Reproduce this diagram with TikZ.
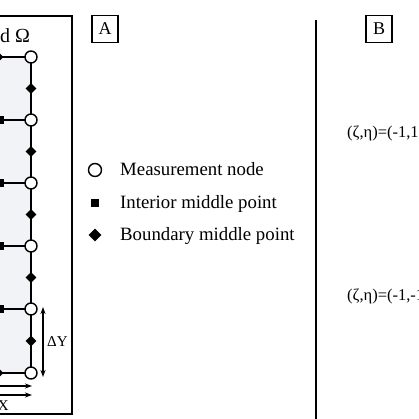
\documentclass[tikz,border=0pt]{standalone}
\usepackage{fontspec}
\setmainfont{Liberation Serif}
\usetikzlibrary{arrows.meta,shapes.geometric}
\definecolor{fillgray}{RGB}{242,243,247}
\begin{document}
\begin{tikzpicture}[x=1pt,y=-1pt,
  meas/.style={circle,draw,line width=1.4pt,fill=white,minimum size=12pt,inner sep=0pt},
  bmid/.style={diamond,fill=black,minimum size=11pt,inner sep=0pt},
  imid/.style={rectangle,fill=black,minimum size=8pt,inner sep=0pt},
  wire/.style={line width=1.6pt},
  lbl/.style={font=\fontsize{18.8}{22}\selectfont,anchor=base west,inner sep=0pt},
  smalltxt/.style={font=\fontsize{15}{18}\selectfont,inner sep=0pt},
  btxt/.style={font=\fontsize{16.5}{19}\selectfont,inner sep=0pt,anchor=base west},
  tag/.style={draw,line width=1.2pt,minimum width=26pt,minimum height=27pt,inner sep=0pt,font=\fontsize{18}{20}\selectfont},
  arr/.style={line width=1.2pt,-{Stealth[length=7pt,width=5pt]}},
  darr/.style={line width=1.2pt,{Stealth[length=7pt,width=5pt]}-{Stealth[length=7pt,width=5pt]}}]
\useasboundingbox (0,0) rectangle (419,419);
% panel A
\fill[fillgray] (-5,57) rectangle (31,373);
\draw[line width=1.2pt] (-10,16) rectangle (72,414);
\node[anchor=base west,inner sep=0pt,font=\fontsize{20}{22}\selectfont] (title) at (0,43) {d Ω};
% boundary column
\foreach \i/\y in {1/57,2/120,3/183,4/246,5/309,6/373}{
  \coordinate (r\i) at (-10,\y);
}
\draw[wire] (31,57) -- (31,373);
\foreach \i in {1,...,6}{
  \draw[wire] (r\i) -- (31,0 |- r\i);
}
\foreach \i/\y in {1/88.5,2/151.5,3/214.5,4/277.5,5/341}{
  \node[bmid] (b\i) at (31,\y) {};
}
\foreach \i/\y in {2/120,3/183,4/246,5/309}{
  \node[imid] (s\i) at (0,\y) {};
}
\node[bmid] (c1) at (-2,57) {};
\node[bmid] (c6) at (-2,373) {};
\foreach \i/\y in {1/57,2/120,3/183,4/246,5/309,6/373}{
  \node[meas] (m\i) at (31,\y) {};
}
% spacing arrows
\coordinate (ax1) at (-10,386);
\coordinate (ax2) at (32,386);
\coordinate (bx1) at (-10,395);
\coordinate (bx2) at (32,395);
\draw[arr] (ax1) -- (ax2);
\draw[arr] (bx1) -- (bx2);
\node[smalltxt,anchor=base east] (dx) at (9,410) {ΔX};
\coordinate (dy1) at (43,307);
\coordinate (dy2) at (43,377);
\draw[darr] (dy1) -- (dy2);
\node[smalltxt,anchor=west] (dylbl) at (47,342) {ΔY};
% tags
\node[tag] (tagA) at (105,29) {A};
\node[tag] (tagB) at (379,29) {B};
% legend
\node[meas,minimum size=13pt] (lm) at (95,170) {};
\node[imid,minimum size=7.5pt] (li) at (95,203) {};
\node[bmid,minimum size=13pt] (lb) at (95,235) {};
\node[lbl] (t1) at (120,176) {Measurement node};
\node[lbl] (t2) at (120,208) {Interior middle point};
\node[lbl] (t3) at (120,240) {Boundary middle point};
% separator
\coordinate (sep1) at (316,20);
\coordinate (sep2) at (316,425);
\draw[line width=1.5pt] (sep1) -- (sep2);
% panel B labels
\node[btxt] (z1) at (347,138) {(ζ,η)=(-1,1)};
\node[btxt] (z2) at (347,300) {(ζ,η)=(-1,-1)};
\end{tikzpicture}
\end{document}
